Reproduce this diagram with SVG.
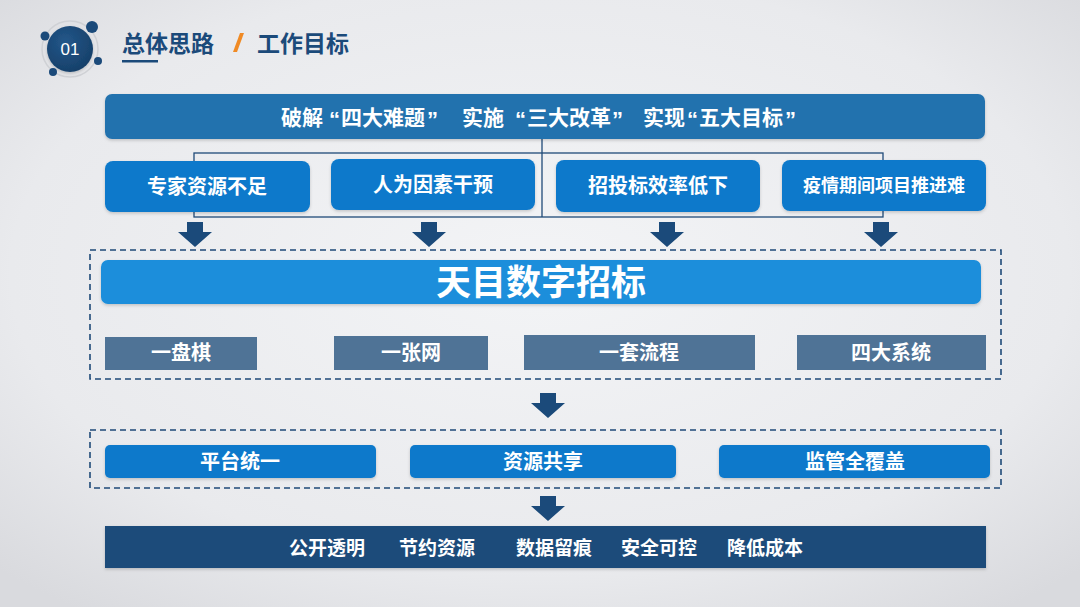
<svg xmlns="http://www.w3.org/2000/svg" width="1080" height="607" viewBox="0 0 1080 607">
<defs>
<radialGradient id="bg" cx="50%" cy="45%" r="70%">
<stop offset="0" stop-color="#F3F4F6"/>
<stop offset="0.7" stop-color="#E9EAED"/>
<stop offset="1" stop-color="#D9DADE"/>
</radialGradient>
<radialGradient id="ball" cx="40%" cy="35%" r="70%">
<stop offset="0" stop-color="#23578A"/>
<stop offset="1" stop-color="#163F68"/>
</radialGradient>
<filter id="sh" x="-10%" y="-20%" width="120%" height="160%">
<feDropShadow dx="0" dy="1.5" stdDeviation="1.5" flood-color="#000" flood-opacity="0.18"/>
</filter>
<path id="arrow" d="M-8,0 H8 V10 H17 L0,25 L-17,10 H-8 Z"/>
</defs>
<style>
text{font-family:"Noto Sans CJK SC","Noto Sans",sans-serif;font-weight:bold;fill:#fff;text-anchor:middle}
.blue{fill:#0A79CB}
.gray{fill:#4F7396}
.arr{fill:#1B4A7A}
.dash{fill:none;stroke:#1F4A78;stroke-width:1.6;stroke-dasharray:6 4}
.conn{fill:none;stroke:#1F4A78;stroke-width:1.3}
.hd{fill:#1B4A7A;text-anchor:start;font-size:23px}
.tb{font-size:21px;text-anchor:start}
.tq,.tc{font-family:"Liberation Sans",sans-serif;font-size:22px}
.tq{text-anchor:end}
.tc{text-anchor:start}
</style>
<rect width="1080" height="607" fill="url(#bg)"/>

<g id="header">
<circle cx="70" cy="49" r="28" fill="none" stroke="#CFD1D5" stroke-width="1.5"/>
<circle cx="70" cy="49" r="23" fill="url(#ball)" filter="url(#sh)"/>
<circle cx="92" cy="27" r="6" fill="#1B4A7A"/>
<circle cx="45" cy="36" r="4.5" fill="#1B4A7A"/>
<circle cx="98" cy="61" r="4" fill="#1B4A7A"/>
<circle cx="53" cy="72" r="4" fill="#1B4A7A"/>
<text x="70" y="55" style="font-family:'Liberation Sans',sans-serif;font-weight:normal;font-size:17px">01</text>
<text class="hd" x="122" y="52">总体思路</text>
<rect x="122" y="60" width="36" height="2.5" fill="#1B4A7A"/>
<path d="M240,33 L244,33 L237,52 L233,52 Z" fill="#F08A24"/>
<text class="hd" x="257" y="52">工作目标</text>
</g>

<g id="connectors">
<rect class="conn" x="194" y="153" width="689" height="64"/>
<line class="conn" x1="542" y1="139" x2="542" y2="217"/>
<use href="#arrow" x="195" y="222" class="arr"/>
<use href="#arrow" x="429" y="222" class="arr"/>
<use href="#arrow" x="667" y="222" class="arr"/>
<use href="#arrow" x="881" y="222" class="arr"/>
<use href="#arrow" x="548" y="393" class="arr"/>
<use href="#arrow" x="548" y="496" class="arr"/>
</g>

<g id="top-bar">
<rect x="105" y="94" width="880" height="45" rx="7" fill="#2472AE" filter="url(#sh)"/>
<text class="tb" x="281" y="125">破解</text><text class="tq" x="340" y="127">“</text><text class="tb" x="341" y="125">四大难题</text><text class="tc" x="427" y="127">”</text>
<text class="tb" x="462" y="125">实施</text><text class="tq" x="526" y="127">“</text><text class="tb" x="527" y="125">三大改革</text><text class="tc" x="612" y="127">”</text>
<text class="tb" x="643" y="125">实现</text><text class="tq" x="698" y="127">“</text><text class="tb" x="699" y="125">五大目标</text><text class="tc" x="785" y="127">”</text>
</g>

<g id="n-expert"><rect class="blue" x="105" y="161" width="205" height="51" rx="8" filter="url(#sh)"/><text x="207" y="194" font-size="20">专家资源不足</text></g>
<g id="n-human"><rect class="blue" x="331" y="159" width="204" height="51" rx="8" filter="url(#sh)"/><text x="433" y="192" font-size="20">人为因素干预</text></g>
<g id="n-eff"><rect class="blue" x="556" y="160" width="204" height="52" rx="8" filter="url(#sh)"/><text x="658" y="193" font-size="20">招投标效率低下</text></g>
<g id="n-epi"><rect class="blue" x="782" y="160" width="204" height="51" rx="8" filter="url(#sh)"/><text x="884" y="192" font-size="18">疫情期间项目推进难</text></g>

<g id="group1">
<rect class="dash" x="90" y="250" width="911" height="129"/>
</g>
<g id="n-tianmu"><rect x="101" y="260" width="880" height="44" rx="7" fill="#1A8EDB" filter="url(#sh)"/><text x="541" y="295" font-size="35">天目数字招标</text></g>
<g id="n-pan"><rect class="gray" x="105" y="337" width="152" height="33"/><text x="181" y="360" font-size="20">一盘棋</text></g>
<g id="n-wang"><rect class="gray" x="334" y="336" width="154" height="34"/><text x="411" y="360" font-size="20">一张网</text></g>
<g id="n-liu"><rect class="gray" x="524" y="335" width="231" height="35"/><text x="639" y="360" font-size="20">一套流程</text></g>
<g id="n-xi"><rect class="gray" x="797" y="335" width="189" height="35"/><text x="891" y="360" font-size="20">四大系统</text></g>

<g id="group2">
<rect class="dash" x="90" y="430" width="911" height="58"/>
</g>
<g id="n-pt"><rect class="blue" x="105" y="445" width="271" height="33" rx="5" filter="url(#sh)"/><text x="240" y="469" font-size="20">平台统一</text></g>
<g id="n-zy"><rect class="blue" x="410" y="445" width="266" height="33" rx="5" filter="url(#sh)"/><text x="543" y="469" font-size="20">资源共享</text></g>
<g id="n-jg"><rect class="blue" x="719" y="445" width="271" height="33" rx="5" filter="url(#sh)"/><text x="855" y="469" font-size="20">监管全覆盖</text></g>

<g id="bottom-bar">
<rect x="105" y="526" width="881" height="42" fill="#1A4B7A" filter="url(#sh)"/>
<text x="327" y="555" font-size="19">公开透明</text>
<text x="437" y="555" font-size="19">节约资源</text>
<text x="554" y="555" font-size="19">数据留痕</text>
<text x="659" y="555" font-size="19">安全可控</text>
<text x="765" y="555" font-size="19">降低成本</text>
</g>
</svg>
